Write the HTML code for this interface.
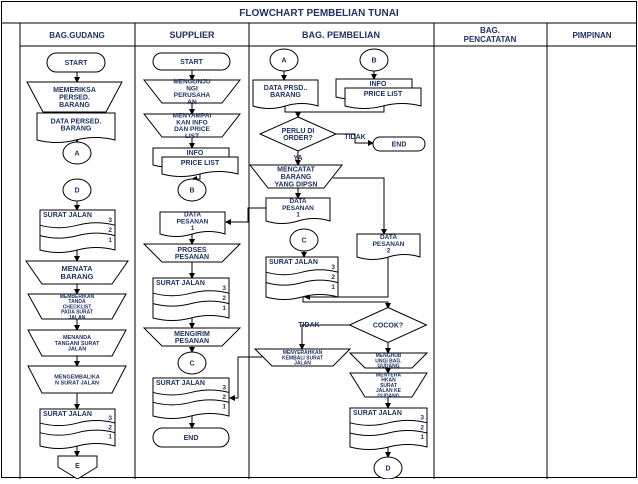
<!DOCTYPE html>
<html><head><meta charset="utf-8"><style>
html,body{margin:0;padding:0;background:#fff;}
svg text{font-family:"Liberation Sans",Arial,sans-serif;font-weight:bold;fill:#1f3264;}
</style></head><body>
<svg id="s" width="638" height="479" viewBox="0 0 638 479" xmlns="http://www.w3.org/2000/svg">
<defs><marker id="ar" markerWidth="6" markerHeight="6" refX="5" refY="3" orient="auto" markerUnits="userSpaceOnUse"><path d="M0,0 L6,3 L0,6 Z" fill="#000"/></marker></defs>
<g id="g" stroke="#000" stroke-width="1" fill="none"></g>
<g id="t"></g>
</svg>
<script>
const G=document.getElementById('g'),T=document.getElementById('t');
function el(tag,a,p){const e=document.createElementNS('http://www.w3.org/2000/svg',tag);for(const k in a)e.setAttribute(k,a[k]);(p||G).appendChild(e);return e;}
function txt(x,y,s,fs,anchor){const e=el('text',{x:x,y:y,'font-size':fs||7,'text-anchor':anchor||'middle'},T);e.textContent=s;return e;}
function lines(cx,cy,arr,fs){fs=fs||7;const lh=fs*1.05;let y=cy-(arr.length-1)*lh/2+fs*0.35;arr.forEach(s=>{txt(cx,y,s,fs);y+=lh;});}
function ln(pts,arrow){el('polyline',Object.assign({points:pts.map(p=>p.join(',')).join(' ')},arrow?{'marker-end':'url(#ar)'}:{}));}
function trap(x1,x2,y1,y2,ins,arr,fs){el('path',{d:`M${x1},${y1}H${x2}L${x2-ins},${y2}H${x1+ins}Z`,fill:'#fff'});lines((x1+x2)/2,(y1+y2)/2,arr,fs);}
function wave(x1,x2,y){const w=x2-x1;return `Q${x2-w/4},${y-5} ${x2-w/2},${y} T${x1},${y}`;}
function doc(x1,x2,y1,y2,arr,fs){el('path',{d:`M${x1},${y1}H${x2}V${y2}${wave(x1,x2,y2)}Z`,fill:'#fff'});lines((x1+x2)/2,(y1+y2)/2-2,arr,fs);}
function multi(x1,x2,y1,y2){const h=y2-y1;el('path',{d:`M${x1},${y1}H${x2}V${y2}${wave(x1,x2,y2)}Z`,fill:'#fff'});
 const a=y1+h*0.38,b=y1+h*0.64;el('path',{d:`M${x2},${a}${wave(x1,x2,a)}`});el('path',{d:`M${x2},${b}${wave(x1,x2,b)}`});
 txt(x1+3,y1+7,'SURAT JALAN',7,'start');txt(x2-3,y1+h*0.3,'3',6.5,'end');txt(x2-3,y1+h*0.55,'2',6.5,'end');txt(x2-3,y1+h*0.8,'1',6.5,'end');}
function term(x1,x2,y1,y2,s){el('rect',{x:x1,y:y1,width:x2-x1,height:y2-y1,rx:(y2-y1)/2,fill:'#fff'});txt((x1+x2)/2,(y1+y2)/2+2.5,s,7);}
function circ(cx,cy,s){el('ellipse',{cx:cx,cy:cy,rx:14,ry:11,fill:'#fff'});txt(cx,cy+2.5,s,7);}
function dbl(x1,x2,y1,y2,dx,dy){el('path',{d:`M${x1},${y1}H${x2}V${y2}${wave(x1,x2,y2)}Z`,fill:'#fff'});
 const X1=x1+dx,X2=x2+dx,Y1=y1+dy,Y2=y2+dy;el('path',{d:`M${X1},${Y1}H${X2}V${Y2}${wave(X1,X2,Y2)}Z`,fill:'#fff'});
 txt((x1+x2)/2+4,y1+7,'INFO',7);txt((X1+X2)/2,Y1+8,'PRICE LIST',7);}
function dia(cx,cy,w,h,arr){el('path',{d:`M${cx},${cy-h/2}L${cx+w/2},${cy}L${cx},${cy+h/2}L${cx-w/2},${cy}Z`,fill:'#fff'});lines(cx,cy,arr,7);}

// frame
el('rect',{x:1.5,y:1.5,width:635,height:476});
ln([[1,23],[637,23]]);ln([[20,46],[637,46]]);
ln([[20,23],[20,479]]);ln([[135,23],[135,479]]);ln([[249,23],[249,479]]);ln([[434,23],[434,479]]);ln([[547,23],[547,479]]);
txt(319,16,'FLOWCHART PEMBELIAN TUNAI',10);
txt(77,38,'BAG.GUDANG',8);txt(192,38,'SUPPLIER',9);txt(341,38,'BAG. PEMBELIAN',9);
txt(490,33,'BAG.',8);txt(490,42,'PENCATATAN',8);txt(592,38,'PIMPINAN',8);

// arrows (drawn first)
ln([[77,72],[77,82]],1);ln([[77,112],[77,113]],1);ln([[77,136],[77,142]],1);
ln([[77,201],[77,210]],1);ln([[77,248],[77,261]],1);ln([[77,284],[77,294]],1);ln([[77,319],[77,330]],1);ln([[77,356],[77,366]],1);ln([[77,393],[77,409]],1);ln([[77,443],[77,456]],1);
ln([[192,70],[192,80]],1);ln([[192,103],[192,114]],1);ln([[192,137],[192,148]],1);ln([[200,172],[200,179],[192,179]],1);
ln([[192,232],[192,244]],1);ln([[192,262],[192,278]],1);ln([[192,316],[192,328]],1);ln([[192,346],[192,352]],1);ln([[192,414],[192,428]],1);
ln([[284,71],[284,80]],1);ln([[374,71],[374,79]],1);
ln([[285,103],[285,112],[384,112],[384,104]]);ln([[298,112],[298,117]],1);
ln([[336,134],[355,134],[355,143],[373,143]],1);txt(355,139,'TIDAK',7);
ln([[298,151],[298,165]],1);txt(298,160,'YA',7);
ln([[298,188],[298,198]],1);
ln([[333,178],[384,178],[384,234]],1);
ln([[266,208],[248,208],[248,222],[226,222]],1);
ln([[304,251],[304,257]],1);
ln([[388,254],[388,297],[305,297]],1);
ln([[303,297],[303,302],[388,302],[388,308]],1);
ln([[350,325],[302,325],[302,349]],1);txt(309,327,'TIDAK',7);
ln([[388,343],[388,353]],1);ln([[388,368],[388,373]],1);ln([[388,397],[388,408]],1);ln([[388,444],[388,457]],1);
ln([[262,357],[238,357],[238,398],[230,398]],1);

// Gudang
term(47,105,53,72,'START');
trap(27,122,82,112,16,['MEMERIKSA','PERSED.','BARANG']);
doc(37,115,113,140,['DATA PERSED.','BARANG']);
circ(77,153,'A');circ(77,190,'D');
multi(40,115,210,250);
trap(26,128,261,284,16,['MENATA','BARANG'],7.5);
trap(28,126,294,319,14,['MEMBERIKAN','TANDA','CHECKLIST','PADA SURAT','JALAN'],5);
trap(28,126,330,356,14,['MENANDA','TANGANI SURAT','JALAN'],5.5);
trap(28,126,366,393,14,['MENGEMBALIKA','N SURAT JALAN'],5.5);
multi(40,115,409,446);
el('path',{d:'M58,456H97V467L77.5,479L58,467Z',fill:'#fff'});txt(77.5,468,'E',7);

// Supplier
term(153,230,53,70,'START');
trap(144,240,80,103,18,['MENGUNJU','NGI','PERUSAHA','AN'],6.5);
trap(144,240,114,137,18,['MENYAMPAI','KAN INFO','DAN PRICE','LIST'],6.5);
dbl(153,229,148,165,9,9);
circ(192,190,'B');
doc(160,225,212,234,['DATA','PESANAN','       1'],6.5);
trap(144,240,244,262,18,['PROSES','PESANAN'],7);
multi(153,229,278,318);
trap(144,240,328,346,18,['MENGIRIM','PESANAN'],7);
circ(192,363,'C');
multi(153,229,378,416);
term(153,229,428,447,'END');

// Pembelian
circ(284,60,'A');circ(374,60,'B');
doc(253,318,80,106,['DATA PRSD..','BARANG']);
dbl(336,412,79,97,9,9);
dia(298,134,76,34,['PERLU DI','ORDER?']);
term(373,425,137,151,'END');
trap(250,342,165,188,18,['MENCATAT','BARANG','YANG DIPSN']);
doc(266,330,198,221,['DATA','PESANAN','       1'],6.5);
circ(304,240,'C');
doc(357,420,234,257,['DATA','PESANAN','          2'],6.5);
multi(266,338,257,297);
dia(388,325,77,35,['COCOK?']);
trap(255,350,349,366,17,['MENYERAHKAN','KEMBALI SURAT','JALAN'],5);
trap(350,427,353,368,15,['MENGHUB','UNGI BAG.','GUDANG'],5);
trap(350,427,373,397,15,['MENYERA','HKAN','SURAT','JALAN KE','GUDANG'],5);
multi(350,427,408,447);
circ(388,468,'D');
</script>
</body></html>
